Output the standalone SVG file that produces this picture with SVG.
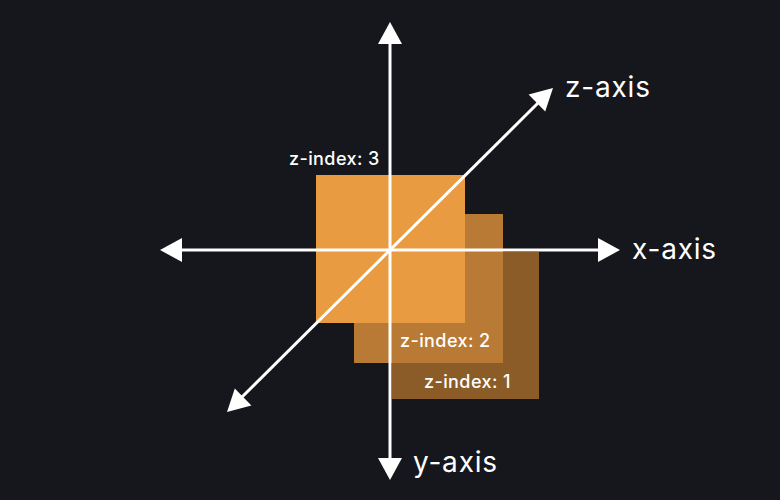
<svg xmlns="http://www.w3.org/2000/svg" width="780" height="500" viewBox="0 0 780 500">
<style>
.axis{stroke:#ffffff;stroke-width:3;fill:none}
.head{fill:#ffffff}
.lbl{font-family:Inter,"Open Sans","Liberation Sans",sans-serif;fill:#ffffff}
.big{font-size:28px;letter-spacing:0.8px}
.small{font-size:18px;letter-spacing:0.4px;font-weight:500}
</style>
<rect width="780" height="500" fill="#16171c"/>
<g id="layer1"><rect x="392" y="252" width="147" height="147" fill="#8b5c28"/><text class="lbl small" x="424" y="388">z-index: 1</text></g>
<g id="layer2"><rect x="354" y="214" width="149" height="149" fill="#b87a35"/><text class="lbl small" x="400" y="347">z-index: 2</text></g>
<g id="layer3"><rect x="316" y="175" width="149" height="148" fill="#e89b40"/><text class="lbl small" x="289" y="165">z-index: 3</text></g>
<g id="connectors">
<line class="axis" x1="390" y1="40" x2="390" y2="462"/>
<polygon class="head" points="390,22 378,44 402,44"/>
<polygon class="head" points="390,480 378,458 402,458"/>
<line class="axis" x1="180" y1="250" x2="600" y2="250"/>
<polygon class="head" points="160,250 182,238 182,262"/>
<polygon class="head" points="620,250 598,238 598,262"/>
<line class="axis" x1="240" y1="399" x2="540" y2="101"/>
<polygon class="head" points="553,88 545.2,111.6 528.6,94.6"/>
<polygon class="head" points="227,412 234.8,388.4 251.4,405.4"/>
</g>
<g id="axis-labels">
<text class="lbl big" x="565" y="97">z-axis</text>
<text class="lbl big" x="632" y="259">x-axis</text>
<text class="lbl big" x="413" y="472">y-axis</text>
</g>
</svg>
